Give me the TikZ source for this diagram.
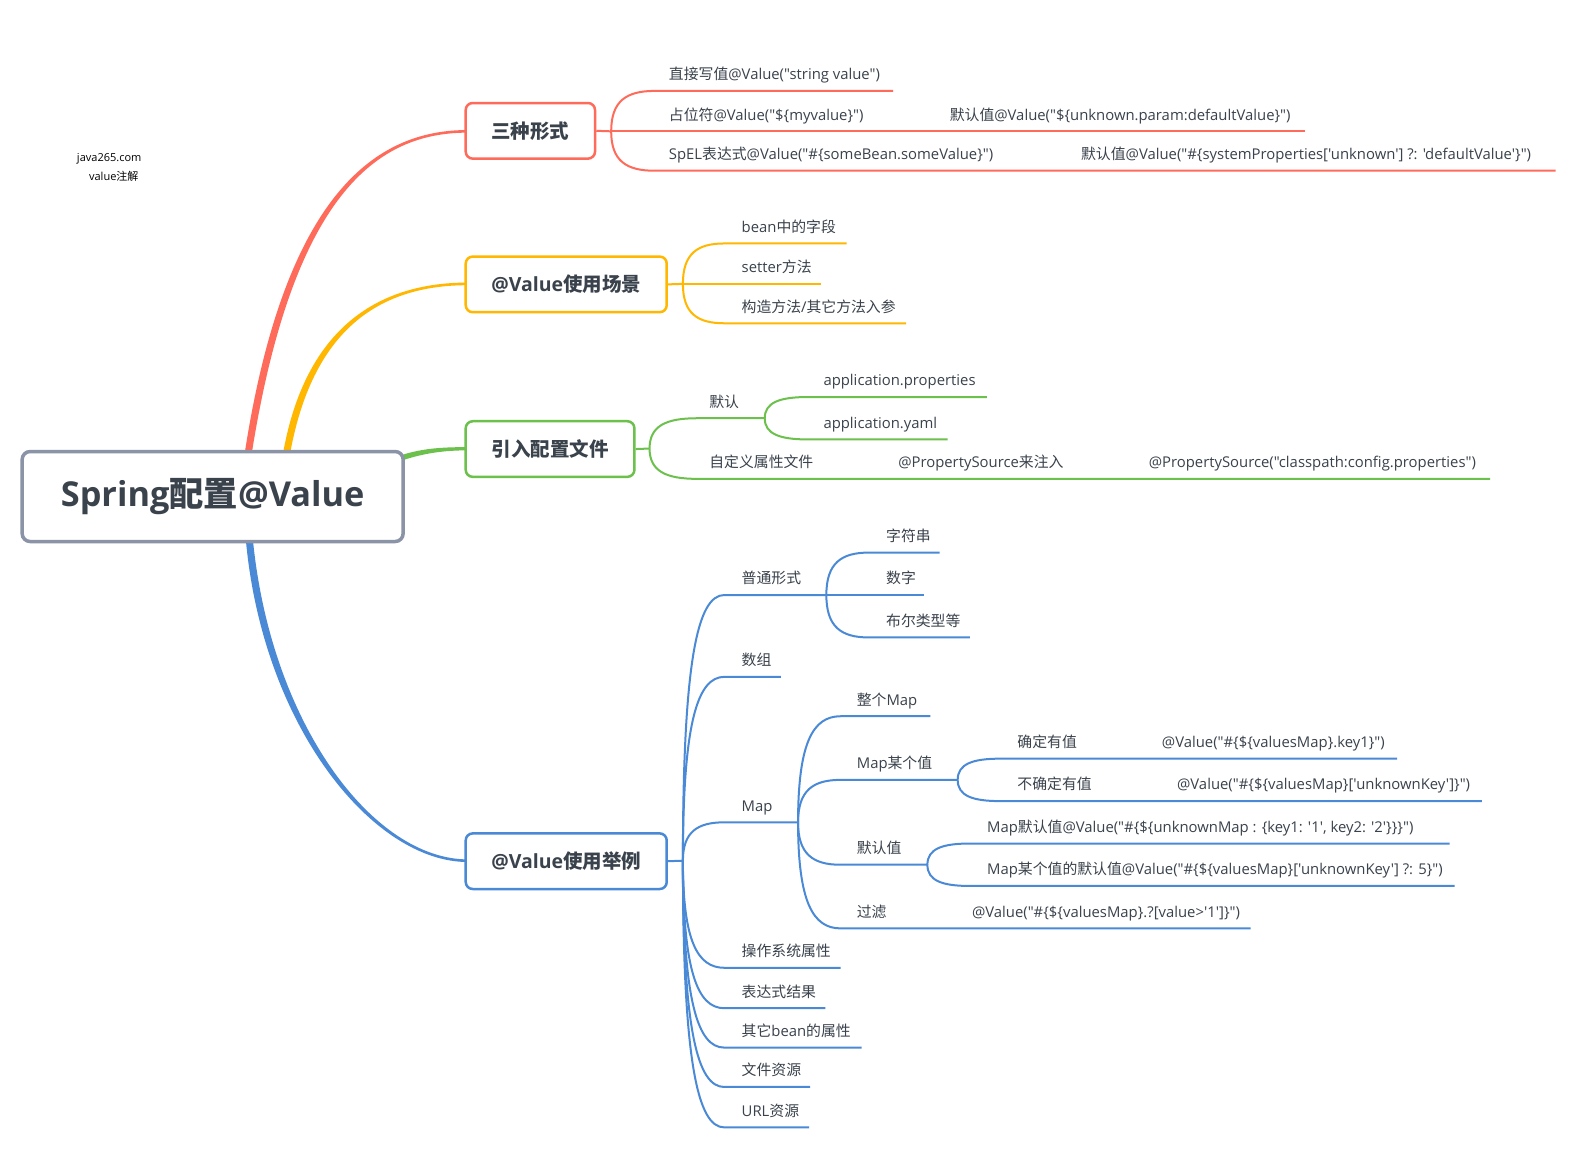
\documentclass[tikz,border=0pt]{standalone}
\usepackage{fontspec}
\setmainfont{Open Sans}[Ligatures=TeXOff]
\newfontfamily\cjk{Noto Sans CJK SC}
\usetikzlibrary{calc}
\chardef\CJKcls=10
\XeTeXinterchartokenstate=1
\count255="4E00
\loop
  \XeTeXcharclass\count255=\CJKcls
  \ifnum\count255<"9FFF
  \advance\count255 by 1
\repeat
\XeTeXinterchartoks 0 \CJKcls = {\cjk}
\XeTeXinterchartoks 1 \CJKcls = {\cjk}
\XeTeXinterchartoks 2 \CJKcls = {\cjk}
\XeTeXinterchartoks 3 \CJKcls = {\cjk}
\XeTeXinterchartoks 4095 \CJKcls = {\cjk}
\XeTeXinterchartoks \CJKcls 0 = {\rmfamily}
\XeTeXinterchartoks \CJKcls 1 = {\rmfamily}
\XeTeXinterchartoks \CJKcls 2 = {\rmfamily}
\XeTeXinterchartoks \CJKcls 3 = {\rmfamily}
\XeTeXinterchartoks \CJKcls 4095 = {\rmfamily}
\definecolor{cred}{RGB}{255,107,90}
\definecolor{corg}{RGB}{255,183,0}
\definecolor{cgrn}{RGB}{108,192,76}
\definecolor{cblu}{RGB}{74,137,214}
\definecolor{cgry}{RGB}{138,148,166}
\definecolor{ctxt}{RGB}{58,66,76}
% branch: junction -> start of underline -> end of underline
\newcommand\brc[4]{\draw[#1] let \p1=(#2), \p2=(#3) in (\p1) .. controls ({\x1},{\y2+0.25*((\y1)-(\y2))}) and ({\x1+0.35*((\x2)-(\x1))},{\y2}) .. (\p2) -- (#4);}
\begin{document}
\begin{tikzpicture}[x=1.0102pt,y=-1.0102pt,
  redl/.style={draw=cred,line width=2},
  orgl/.style={draw=corg,line width=2},
  grnl/.style={draw=cgrn,line width=2},
  blul/.style={draw=cblu,line width=2},
  rootbox/.style={draw=cgry,line width=3.5,fill=white,rounded corners=8,minimum width=381,minimum height=90,inner sep=0,font=\fontsize{34.3}{38}\selectfont\bfseries,text=ctxt},
  mainbox/.style={line width=2.5,fill=white,rounded corners=7,minimum height=55.6,inner sep=0,font=\fontsize{19.5}{23}\selectfont\bfseries,text=ctxt},
  leaf/.style={anchor=base west,inner sep=0,font=\fontsize{14.85}{17}\selectfont,text=ctxt},
  wm/.style={anchor=base west,inner sep=0,font=\fontsize{11}{13}\selectfont,text=black}]
\useasboundingbox (0,0) rectangle (1568,1143.3);
\fill[white] (0,0) rectangle (1568,1143.3);

% ---------- main tapered branches ----------
\fill[cred] (242.5,470) -- (242.5,447) .. controls (284,180) and (380,128.7) .. (463,128.7)
  -- (463,131.3) .. controls (380,131.3) and (292,182) .. (249.5,447) -- (249.5,470) -- cycle;
\fill[corg] (280.5,470) -- (280.5,447) .. controls (302,329) and (370,279.7) .. (463,279.7)
  -- (463,282.3) .. controls (370,282.3) and (309,332) .. (287.5,447) -- (287.5,470) -- cycle;
\fill[cblu] (243.5,515) -- (243.5,536) .. controls (261,721) and (370,853.3) .. (463,853.3)
  -- (463,850.7) .. controls (370,850.7) and (269,718) .. (250.5,536) -- (250.5,515) -- cycle;
\fill[cgrn] (385,451) -- (399,450) .. controls (420,443.5) and (440,442.6) .. (463,442.6)
  -- (463,445.8) .. controls (440,445.8) and (420,448.5) .. (399,455.5) -- (385,456) -- cycle;

% ---------- root and main boxes ----------
\node[rootbox] (root) at (210.5,491.5) {Spring配置@Value};
\node[mainbox,draw=cred,minimum width=129.3] (b1) at (525,129.5) {三种形式};
\node[mainbox,draw=corg,minimum width=201] (b2) at (560.5,281.5) {@Value使用场景};
\node[mainbox,draw=cgrn,minimum width=168.7] (b3) at (544.5,444.5) {引入配置文件};
\node[mainbox,draw=cblu,minimum width=201] (b4) at (560.5,852.5) {@Value使用举例};

% ---------- watermark ----------
\node[wm] (wm1) at (76,160) {java265.com};
\node[wm] (wm2) at (88,179) {value注解};

% ---------- branch 1: 三种形式 ----------
\coordinate (j1) at (605,130);
\draw[redl] (b1.east) -- (j1);
\coordinate (a1s) at (648,90);  \coordinate (a1e) at (884,90);
\coordinate (a2e) at (1292,130);
\coordinate (a3s) at (648,169); \coordinate (a3e) at (1540,169);
\brc{redl}{j1}{a1s}{a1e}
\draw[redl] (j1) -- (a2e);
\brc{redl}{j1}{a3s}{a3e}
\node[leaf] (t11) at (662,79) {直接写值@Value("string value")};
\node[leaf] (t12) at (662,119) {占位符@Value("\$\{myvalue\}")};
\node[leaf] (t12b) at (940,119) {默认值@Value("\$\{unknown.param:defaultValue\}")};
\node[leaf] (t13) at (662,158) {SpEL表达式@Value("\#\{someBean.someValue\}")};
\node[leaf] (t13b) at (1070,158) {默认值@Value("\#\{systemProperties['unknown'] ?: 'defaultValue'\}")};

% ---------- branch 2: @Value使用场景 ----------
\coordinate (j2) at (676,281);
\draw[orgl] (b2.east) -- (j2);
\coordinate (c1s) at (717,241); \coordinate (c1e) at (838,241);
\coordinate (c2e) at (813,281);
\coordinate (c3s) at (717,320); \coordinate (c3e) at (897,320);
\brc{orgl}{j2}{c1s}{c1e}
\draw[orgl] (j2) -- (c2e);
\brc{orgl}{j2}{c3s}{c3e}
\node[leaf] (t21) at (734,230) {bean中的字段};
\node[leaf] (t22) at (734,270) {setter方法};
\node[leaf] (t23) at (734,309) {构造方法/其它方法入参};

% ---------- branch 3: 引入配置文件 ----------
\coordinate (j3) at (643,444);
\draw[grnl] (b3.east) -- (j3);
\coordinate (g1s) at (690,414); \coordinate (j3a) at (757,414);
\coordinate (g2s) at (690,474); \coordinate (g2e) at (1475,474);
\brc{grnl}{j3}{g1s}{j3a}
\brc{grnl}{j3}{g2s}{g2e}
\coordinate (g11s) at (800,393); \coordinate (g11e) at (977,393);
\coordinate (g12s) at (800,435); \coordinate (g12e) at (938,435);
\brc{grnl}{j3a}{g11s}{g11e}
\brc{grnl}{j3a}{g12s}{g12e}
\node[leaf] (t31) at (702,403) {默认};
\node[leaf] (t311) at (815,382) {application.properties};
\node[leaf] (t312) at (815,424) {application.yaml};
\node[leaf] (t32) at (702,463) {自定义属性文件};
\node[leaf] (t32b) at (889,463) {@PropertySource来注入};
\node[leaf] (t32c) at (1137,463) {@PropertySource("classpath:config.properties")};

% ---------- branch 4: @Value使用举例 ----------
\coordinate (j4) at (676,852);
\draw[blul] (b4.east) -- (j4);
\coordinate (d1s) at (717,589);  \coordinate (j4a) at (818,589);
\coordinate (d2s) at (717,670);  \coordinate (d2e) at (773,670);
\coordinate (d3s) at (717,814);  \coordinate (j4b) at (790,814);
\coordinate (d4s) at (717,958);  \coordinate (d4e) at (832,958);
\coordinate (d5s) at (717,998);  \coordinate (d5e) at (817,998);
\coordinate (d6s) at (717,1037); \coordinate (d6e) at (853,1037);
\coordinate (d7s) at (717,1076); \coordinate (d7e) at (802,1076);
\coordinate (d8s) at (717,1116); \coordinate (d8e) at (801,1116);
\brc{blul}{j4}{d1s}{j4a}
\brc{blul}{j4}{d2s}{d2e}
\brc{blul}{j4}{d3s}{j4b}
\brc{blul}{j4}{d4s}{d4e}
\brc{blul}{j4}{d5s}{d5e}
\brc{blul}{j4}{d6s}{d6e}
\brc{blul}{j4}{d7s}{d7e}
\brc{blul}{j4}{d8s}{d8e}
% 普通形式 children
\coordinate (e1s) at (860,547); \coordinate (e1e) at (930,547);
\coordinate (e2e) at (915,589);
\coordinate (e3s) at (860,631); \coordinate (e3e) at (960,631);
\brc{blul}{j4a}{e1s}{e1e}
\draw[blul] (j4a) -- (e2e);
\brc{blul}{j4a}{e3s}{e3e}
% Map children
\coordinate (m1s) at (832,709); \coordinate (m1e) at (921,709);
\coordinate (m2s) at (832,772); \coordinate (j4c) at (948,772);
\coordinate (m3s) at (832,856); \coordinate (j4d) at (918,856);
\coordinate (m4s) at (832,919); \coordinate (m4e) at (1238,919);
\brc{blul}{j4b}{m1s}{m1e}
\brc{blul}{j4b}{m2s}{j4c}
\brc{blul}{j4b}{m3s}{j4d}
\brc{blul}{j4b}{m4s}{m4e}
\coordinate (n1s) at (990,751); \coordinate (n1e) at (1383,751);
\coordinate (n2s) at (990,793); \coordinate (n2e) at (1467,793);
\brc{blul}{j4c}{n1s}{n1e}
\brc{blul}{j4c}{n2s}{n2e}
\coordinate (p1s) at (960,835); \coordinate (p1e) at (1435,835);
\coordinate (p2s) at (960,877); \coordinate (p2e) at (1440,877);
\brc{blul}{j4d}{p1s}{p1e}
\brc{blul}{j4d}{p2s}{p2e}
% texts
\node[leaf] (t41) at (734,578) {普通形式};
\node[leaf] (t411) at (877,536) {字符串};
\node[leaf] (t412) at (877,578) {数字};
\node[leaf] (t413) at (877,620) {布尔类型等};
\node[leaf] (t42) at (734,659) {数组};
\node[leaf] (t43) at (734,803) {Map};
\node[leaf] (t431) at (848,698) {整个Map};
\node[leaf] (t432) at (848,761) {Map某个值};
\node[leaf] (t4321) at (1007,740) {确定有值};
\node[leaf] (t4321b) at (1150,740) {@Value("\#\{\$\{valuesMap\}.key1\}")};
\node[leaf] (t4322) at (1007,782) {不确定有值};
\node[leaf] (t4322b) at (1165,782) {@Value("\#\{\$\{valuesMap\}['unknownKey']\}")};
\node[leaf] (t433) at (848,845) {默认值};
\node[leaf] (t4331) at (977,824) {Map默认值@Value("\#\{\$\{unknownMap : \{key1: '1', key2: '2'\}\}\}")};
\node[leaf] (t4332) at (977,866) {Map某个值的默认值@Value("\#\{\$\{valuesMap\}['unknownKey'] ?: 5\}")};
\node[leaf] (t434) at (848,908) {过滤};
\node[leaf] (t434b) at (962,908) {@Value("\#\{\$\{valuesMap\}.?[value>'1']\}")};
\node[leaf] (t44) at (734,947) {操作系统属性};
\node[leaf] (t45) at (734,987) {表达式结果};
\node[leaf] (t46) at (734,1026) {其它bean的属性};
\node[leaf] (t47) at (734,1065) {文件资源};
\node[leaf] (t48) at (734,1105) {URL资源};
\end{tikzpicture}
\end{document}
